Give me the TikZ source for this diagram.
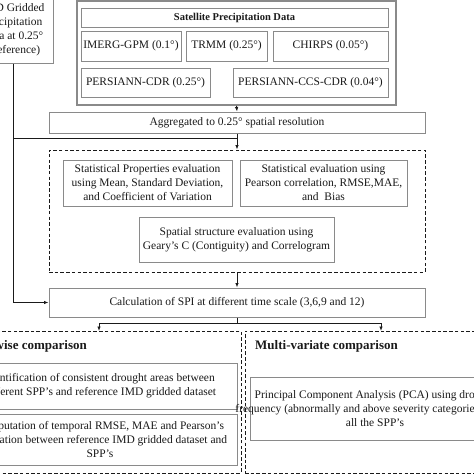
\documentclass[tikz,border=0pt]{standalone}
\usepackage{fontspec}
\setmainfont{Liberation Serif}
\usepackage{xcolor}
\usepackage{tikz}
\usetikzlibrary{arrows.meta,calc,positioning}
\definecolor{SppLine}{HTML}{8A8A8A}
\definecolor{SppInk}{HTML}{1A1A1A}
\tikzset{
  >=Latex,
  databox/.style={draw=SppLine,line width=1pt,fill=white,align=center,
    inner sep=0pt,text=SppInk,font=\fontsize{11.5}{14}\selectfont},
  outerbox/.style={draw=SppLine,line width=1.6pt,inner sep=0pt},
  groupbox/.style={draw=SppInk,line width=0.9pt,dash pattern=on 3.5pt off 2.2pt,inner sep=0pt},
  heading/.style={font=\fontsize{13}{15}\selectfont\bfseries,text=SppInk,inner sep=0pt},
  bodytext/.style={align=center,inner sep=0pt,text=SppInk,font=\fontsize{11.5}{14}\selectfont},
  flow/.style={-{Latex[length=4.5pt,width=3.5pt]},line width=0.8pt,draw=SppInk},
  link/.style={line width=0.8pt,draw=SppInk}
}

\begin{document}
\begin{tikzpicture}[x=1pt,y=-1pt]
  \useasboundingbox (0,0) rectangle (474,474);
  \clip (0,0) rectangle (474,474);

  \node[databox,minimum width=80pt,minimum height=66pt] (imd) at (13,30) {IMD Gridded\\Precipitation\\Data at 0.25°\\(Reference)};

  \node[outerbox,minimum width=319pt,minimum height=104pt] (satellite) at (236.5,53) {};
  \node[databox,minimum width=307pt,minimum height=19pt,font=\fontsize{10.5}{12}\selectfont\bfseries] (sattitle) at (234.5,17.5) {Satellite Precipitation Data};
  \node[databox,minimum width=100pt,minimum height=30pt] (imerg) at (131,46) {IMERG-GPM (0.1°)};
  \node[databox,minimum width=81pt,minimum height=30pt] (trmm) at (226.5,46) {TRMM (0.25°)};
  \node[databox,minimum width=115pt,minimum height=30pt] (chirps) at (330.5,46) {CHIRPS (0.05°)};
  \node[databox,minimum width=129pt,minimum height=29pt] (pcdr) at (145.5,82.5) {PERSIANN-CDR (0.25°)};
  \node[databox,minimum width=155pt,minimum height=29pt] (pccs) at (310.5,82.5) {PERSIANN-CCS-CDR (0.04°)};

  \node[databox,minimum width=376pt,minimum height=21pt] (aggr) at (237,122.5) {Aggregated to 0.25° spatial resolution};

  \node[groupbox,minimum width=376pt,minimum height=122pt] (evalgroup) at (237,211) {};
  \node[databox,minimum width=169pt,minimum height=46pt] (statprop) at (147.5,183) {Statistical Properties evaluation\\using Mean, Standard Deviation,\\and Coefficient of Variation};
  \node[databox,minimum width=167pt,minimum height=46pt] (stateval) at (323.5,183) {Statistical evaluation using\\Pearson correlation, RMSE,MAE,\\and\ \ Bias};
  \node[databox,minimum width=195pt,minimum height=45pt] (spatial) at (236.5,239.5) {Spatial structure evaluation using\\Geary’s C (Contiguity) and Correlogram};

  \node[databox,minimum width=376pt,minimum height=29pt] (spi) at (237,302.5) {Calculation of SPI at different time scale (3,6,9 and 12)};

  \node[groupbox,minimum width=301pt,minimum height=142pt] (pairgroup) at (90.5,402) {};
  \node[groupbox,minimum width=295pt,minimum height=142pt] (multigroup) at (392.5,402) {};
  \node[heading,anchor=east] (pairtitle) at (87,346) {Pairwise comparison};
  \node[heading,anchor=west] (multititle) at (255,346) {Multi-variate comparison};

  \node[databox,minimum width=274pt,minimum height=46pt] (ident) at (100,386) {Identification of consistent drought areas between\\different SPP’s and reference IMD gridded dataset};
  \node[databox,minimum width=274pt,minimum height=51pt] (temporal) at (100,439.5) {Computation of temporal RMSE, MAE and Pearson’s\\correlation between reference IMD gridded dataset and\\SPP’s};

  \node[databox,minimum width=250pt,minimum height=63pt] (pcabox) at (375,408.5) {};
  \node[bodytext] (pcatext) at (375,408.5) {Principal Component Analysis (PCA) using drought\\frequency (abnormally and above severity categories) across\\all the SPP’s};

  \coordinate (join) at (237,138);
  \coordinate (split) at (237,323);
  \coordinate (pairin) at (99,331);
  \coordinate (multiin) at (381,331);

  \draw[flow] (satellite.south) -- (aggr.north);
  \draw[flow] (aggr.south) -- (evalgroup.north);
  \draw[link] (imd.south |- join) -- (join);
  \draw[flow] (imd.south) |- (spi.west);
  \draw[flow] (evalgroup.south) -- (spi.north);
  \draw[link] (spi.south) -- (split);
  \draw[flow] (split) -| (pairin);
  \draw[flow] (split) -| (multiin);

\end{tikzpicture}
\end{document}
